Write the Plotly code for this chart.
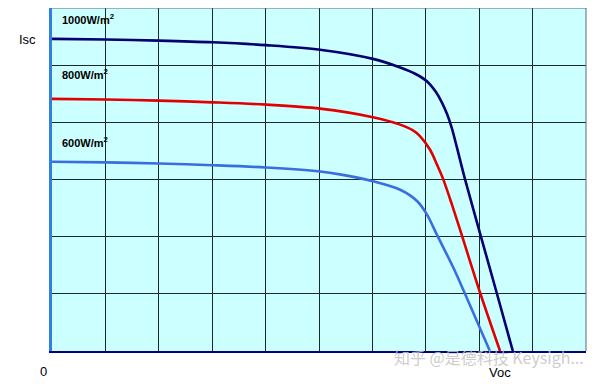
import plotly.graph_objects as go

# I-V curves at three irradiance levels (x: voltage in grid units, y: current in grid units)
x_1000 = [0, 1.01, 2.00, 3.01, 4.01, 5.02, 6.01, 6.52, 6.80, 7.02, 7.19, 7.30, 7.40, 7.49, 7.58, 7.73, 8.03, 8.33, 8.63]
y_1000 = [5.46, 5.45, 5.43, 5.40, 5.35, 5.27, 5.11, 4.96, 4.85, 4.72, 4.53, 4.35, 4.14, 3.89, 3.57, 3.02, 2.01, 1.01, 0.0]

x_800 = [0, 1.01, 2.00, 3.01, 4.01, 5.02, 6.01, 6.52, 6.76, 6.89, 7.08, 7.21, 7.32, 7.49, 7.68, 8.02, 8.39]
y_800 = [4.41, 4.40, 4.38, 4.35, 4.31, 4.24, 4.09, 3.96, 3.86, 3.76, 3.52, 3.26, 3.02, 2.56, 2.01, 1.01, 0.0]

x_600 = [0, 1.01, 2.00, 3.01, 4.01, 5.02, 5.39, 6.01, 6.52, 6.84, 7.02, 7.21, 7.53, 7.73, 8.20]
y_600 = [3.31, 3.30, 3.28, 3.25, 3.21, 3.14, 3.09, 2.97, 2.82, 2.62, 2.39, 2.03, 1.43, 1.01, 0.0]

series_labels = ["1000W/m<sup>2</sup>", "800W/m<sup>2</sup>", "600W/m<sup>2</sup>"]
series_colors = ["#000070", "#e00000", "#3a6ee0"]

W, H = 592, 376          # page has an 8px body margin
L, R, T, B = 44, 14, 0, 33
PW, PH = W - L - R, H - T - B


def px(xp):
    return (xp - 8 - L) / PW


def py(yp):
    return (H + 8 - B - yp) / PH


fig = go.Figure()
for xs, ys, c in [(x_1000, y_1000, series_colors[0]),
                  (x_800, y_800, series_colors[1]),
                  (x_600, y_600, series_colors[2])]:
    fig.add_trace(go.Scatter(x=xs, y=ys, mode="lines",
                             line=dict(color=c, width=2.6, shape="spline", smoothing=0.9),
                             showlegend=False, hoverinfo="skip"))

lab_font = dict(family="Arial, Liberation Sans", size=11, color="#000000")
txt_font = dict(family="Arial, Liberation Sans", size=13, color="#000000")
for text, ypix in zip(series_labels, [19, 74, 142]):
    fig.add_annotation(x=px(60), y=py(ypix), xref="paper", yref="paper",
                       text="<b>" + text + "</b>", showarrow=False,
                       xanchor="left", yanchor="middle", font=lab_font)

fig.add_annotation(x=px(27), y=py(39), xref="paper", yref="paper", text="Isc",
                   showarrow=False, xanchor="center", yanchor="middle", font=txt_font)
fig.add_annotation(x=px(43), y=py(371), xref="paper", yref="paper", text="0",
                   showarrow=False, xanchor="center", yanchor="middle", font=txt_font)
fig.add_annotation(x=px(500), y=py(372), xref="paper", yref="paper", text="Voc",
                   showarrow=False, xanchor="center", yanchor="middle", font=txt_font)
fig.add_annotation(x=px(586), y=py(357), xref="paper", yref="paper",
                   text="知乎 @是德科技 Keysigh...", showarrow=False,
                   xanchor="right", yanchor="middle",
                   font=dict(family="Noto Sans CJK SC", size=16, color="rgba(195,195,195,0.85)"))

fig.update_layout(
    width=W, height=H,
    margin=dict(l=L, r=R, t=T, b=B, pad=0),
    paper_bgcolor="white",
    plot_bgcolor="#ccffff",
    xaxis=dict(range=[0, 10], dtick=1, tick0=0, showticklabels=False, ticks="",
               showgrid=True, gridcolor="#1a2a2a", gridwidth=1, zeroline=False,
               showline=True, linecolor="#000080", linewidth=2, mirror=False),
    yaxis=dict(range=[0, 6], dtick=1, tick0=0, showticklabels=False, ticks="",
               showgrid=True, gridcolor="#1a2a2a", gridwidth=1, zeroline=False,
               showline=True, linecolor="#3080e0", linewidth=3, mirror=False),
)
fig.add_shape(type="line", xref="paper", yref="paper", x0=1, x1=1, y0=0, y1=1,
              line=dict(color="#5a6a7a", width=1))
fig.add_shape(type="line", xref="paper", yref="paper", x0=0, x1=1, y0=1, y1=1,
              line=dict(color="#5a6a7a", width=1))

fig.write_html("out.html")
